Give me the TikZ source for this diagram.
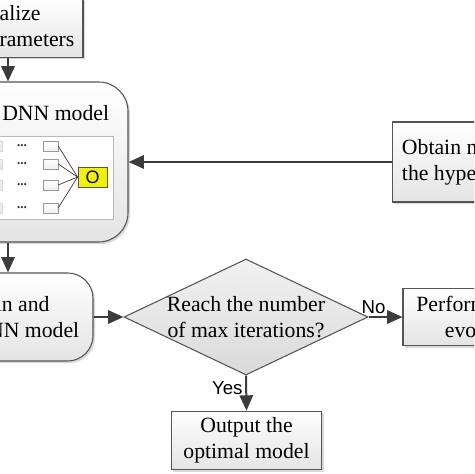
\documentclass[tikz,border=0pt]{standalone}
\usepackage{fontspec}
\setmainfont{Liberation Serif}
\newfontfamily\labelfont{Liberation Sans}
\usetikzlibrary{arrows.meta, positioning, shapes.geometric, shadows, calc}
\definecolor{fcline}{HTML}{555555}
\definecolor{fcarrow}{HTML}{3C3C3C}
\definecolor{fcshade}{HTML}{E4E4E4}
\definecolor{fcdiamond}{HTML}{DADADA}
\definecolor{fcyellow}{HTML}{F2F200}

\begin{document}
\begin{tikzpicture}[x=0.75pt, y=-0.75pt,
    stepbox/.style={rectangle, draw=fcline, line width=0.8pt, top color=white,
      bottom color=fcshade, drop shadow={opacity=0.3, shadow xshift=1.5pt, shadow yshift=-1.5pt},
      font=\fontsize{16.3}{19.5}\selectfont, align=center, inner sep=0pt},
    roundbox/.style={stepbox, rounded corners=18pt},
    decision/.style={diamond, draw=fcline, line width=0.8pt, top color=fcshade!50,
      bottom color=fcdiamond, minimum width=183pt, minimum height=87pt, inner sep=0pt},
    flow/.style={draw=fcarrow, line width=1.5pt, -{Triangle[length=11.5pt, width=10pt]}},
    unit/.style={rectangle, draw=gray!80, line width=0.5pt, top color=white, bottom color=gray!12,
      minimum width=11pt, minimum height=7.5pt, inner sep=0pt},
    lbl/.style={font=\labelfont\fontsize{14}{16}\selectfont, inner sep=2pt},
    txt/.style={font=\fontsize{16.3}{19.5}\selectfont, align=center, inner sep=0pt}
  ]
  \useasboundingbox (0,0) rectangle (474,474);
  \clip (0,0) rectangle (474,474);

  % left column
  \node[stepbox, minimum width=121.5pt, minimum height=43.5pt] (init) at (2,28.5) {Initialize\\hyperparameters};
  \node[roundbox, rounded corners=22pt, minimum width=180pt, minimum height=120pt] (dnn) at (8,162) {};
  \node[txt, anchor=west] (dnntitle) at (2,113) {DNN model};
  \node[rectangle, draw=gray!55, fill=white, minimum width=157.5pt, minimum height=62pt,
    inner sep=0pt] (net) at (8,177.5) {};
  \foreach \r [count=\i] in {146,164,185,208} {
    \node[unit, top color=gray!12, bottom color=gray!20, draw=gray!30] (g\i) at (-5,\r) {};
    \node[font=\bfseries\fontsize{10}{10}\selectfont, text=gray!40!black, inner sep=0pt] (d\i) at (22,\r) {...};
    \node[unit] (h\i) at (50.5,\r) {};
  }
  \node[draw=fcline, fill=fcyellow, minimum width=22pt, minimum height=15pt, inner sep=0pt,
    font=\labelfont\fontsize{13.5}{13.5}\selectfont] (out) at (92.5,177) {O};
  \foreach \i in {1,...,4}
    \draw[gray!40!black, line width=0.5pt] (h\i.east) -- (out.west);
  \node[roundbox, rounded corners=19pt, minimum width=127.5pt, minimum height=66pt] (train) at (8,317) {Train and\\test DNN model};

  % decision and outputs
  \node[decision] (chk) at (246,317) {};
  \node[txt] (chktext) at (246,317) {Reach the number\\of max iterations?};
  \node[stepbox, minimum width=124.5pt, minimum height=43pt] (evo) at (486,317) {Perform genetic\\evolution};
  \node[stepbox, align=left, minimum width=179pt, minimum height=60pt] (obtain) at (511.5,162) {Obtain mutated values of\\the hyperparameters};
  \node[stepbox, minimum width=113pt, minimum height=44pt] (best) at (246.5,440.5) {Output the\\optimal model};

  \draw[flow] (init.south -| dnn.north) -- (dnn.north);
  \draw[flow] (dnn.south) -- (train.north);
  \draw[flow] (train.east) -- (chk.west);
  \draw[flow] (chk.east) -- node[lbl, above, pos=0.15]{No} (evo.west);
  \draw[flow] (chk.south) -- node[lbl, left, pos=0.36]{Yes} (best.north);
  \draw[flow] (obtain.west) -- (dnn.east);
\end{tikzpicture}
\end{document}
